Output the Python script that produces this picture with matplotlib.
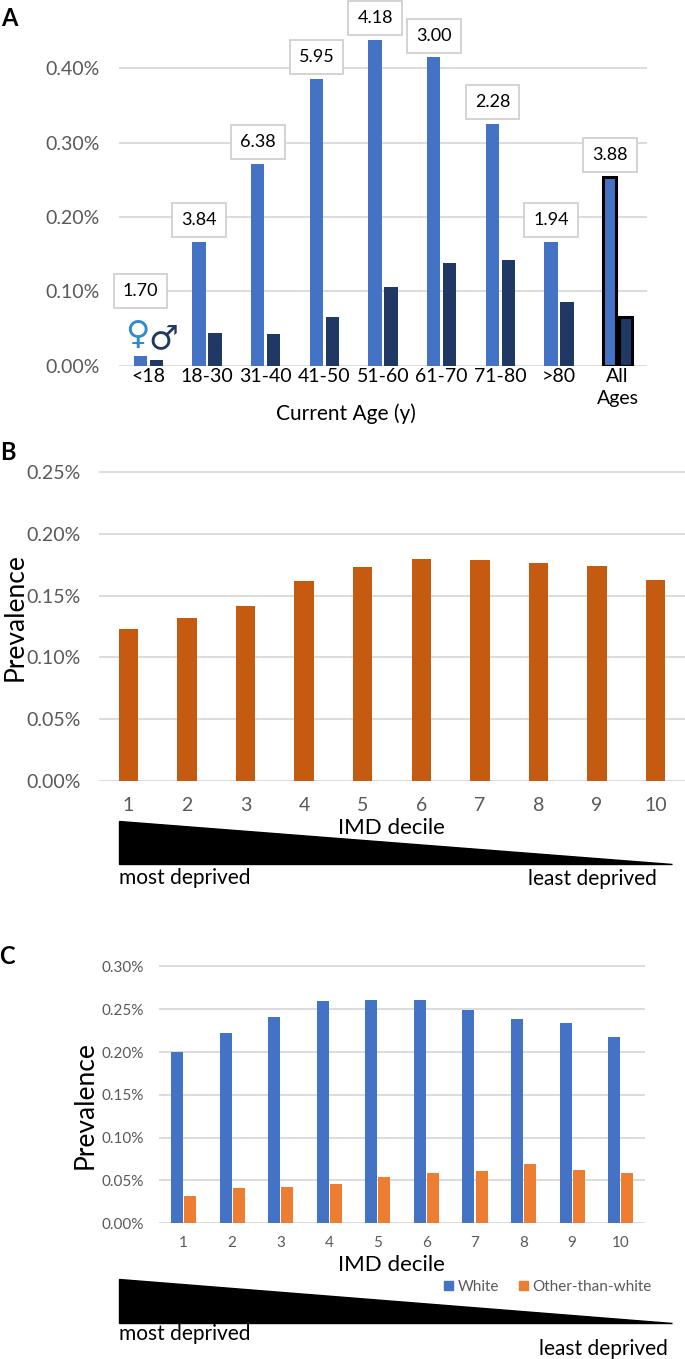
import matplotlib
matplotlib.use("Agg")
import matplotlib.pyplot as plt
from matplotlib.patches import Polygon, Patch
from matplotlib.ticker import FuncFormatter

plt.rcParams['font.family'] = ['Lato', 'DejaVu Sans']

# ---- data ----
age_groups = ["<18", "18-30", "31-40", "41-50", "51-60", "61-70", "71-80", ">80", "All\nAges"]
female_prev = [0.013, 0.1664, 0.2713, 0.3856, 0.4381, 0.4148, 0.3251, 0.1664, 0.2542]
male_prev = [0.0077, 0.0436, 0.0426, 0.0651, 0.1054, 0.1381, 0.1422, 0.0861, 0.0659]
ratio_labels = ["1.70", "3.84", "6.38", "5.95", "4.18", "3.00", "2.28", "1.94", "3.88"]

deciles = ["1", "2", "3", "4", "5", "6", "7", "8", "9", "10"]
imd_prev = [0.1227, 0.1316, 0.1413, 0.1618, 0.1734, 0.1799, 0.1789, 0.1762, 0.1740, 0.1624]
white_prev = [0.2001, 0.2227, 0.2414, 0.2593, 0.2612, 0.2605, 0.2492, 0.2390, 0.2336, 0.2176]
other_prev = [0.0323, 0.0413, 0.0428, 0.0463, 0.0537, 0.0588, 0.0611, 0.0693, 0.0619, 0.0591]

BLUE = "#4472C4"
NAVY = "#203864"
DARK_ORANGE = "#C55A11"
ORANGE = "#ED7D31"
GRID = "#D9D9D9"
TICK = "#595959"

W, H = 685, 1359
fig = plt.figure(figsize=(W / 100, H / 100), dpi=100)


def fx(px):
    return px / W


def fy(py):
    return 1 - py / H


def axes_px(left, right, bottom, top):
    return fig.add_axes([fx(left), fy(bottom), (right - left) / W, (bottom - top) / H])


def style(ax, ticks, fs, pad_y, pad_x, xcolor):
    for s in ax.spines.values():
        s.set_visible(False)
    ax.set_yticks(ticks)
    ax.yaxis.set_major_formatter(FuncFormatter(lambda v, p: f"{v:.2f}%"))
    ax.grid(axis='y', color=GRID, lw=1.3)
    ax.set_axisbelow(True)
    ax.tick_params(axis='y', length=0, pad=pad_y, labelsize=fs, labelcolor=TICK)
    ax.tick_params(axis='x', length=0, pad=pad_x, labelsize=fs, labelcolor=xcolor)


# ---- panel A ----
axA = axes_px(119, 647, 365.7, 8.8)
xa = list(range(len(age_groups)))
bw = 0.23
off = 0.135
last = len(age_groups) - 1
for i in xa:
    edge = 'black' if i == last else 'none'
    lw = 2.2 if i == last else 0
    axA.bar(i - off, female_prev[i], bw, color=BLUE, edgecolor=edge, linewidth=lw)
    axA.bar(i + off, male_prev[i], bw, color=NAVY, edgecolor=edge, linewidth=lw)
axA.set_xlim(-0.5, len(age_groups) - 0.5)
axA.set_ylim(0, 0.48)
axA.set_xticks(xa)
axA.set_xticklabels(age_groups, linespacing=1.3)
style(axA, [0, 0.1, 0.2, 0.3, 0.4], 14, 14, 2, 'black')

box = dict(boxstyle='square,pad=0.5', fc='white', ec='#D0D0D0', lw=1.3)
for i, lab in enumerate(ratio_labels):
    if i == 0:
        axA.annotate(lab, xy=(i - off, 0.10), ha='center', va='center',
                     fontsize=13, bbox=box)
    else:
        axA.annotate(lab, xy=(i - off, female_prev[i]), xytext=(0, 15.5),
                     textcoords='offset points', ha='center', va='center',
                     fontsize=13, bbox=box, annotation_clip=False)

fig.text(fx(137), fy(334), "\u2640", fontsize=24, color="#2E8BD0",
         family='DejaVu Sans', ha='center', va='center')
fig.text(fx(163), fy(339), "\u2642", fontsize=24, color=NAVY,
         family='DejaVu Sans', ha='center', va='center')
fig.text(fx(346), fy(414), "Current Age (y)", fontsize=15, ha='center', va='center')
fig.text(fx(9), fy(18), "A", fontsize=17, fontweight='bold', ha='center', va='center')

# ---- panel B ----
axB = axes_px(99, 685, 780.7, 459.9)
xd = list(range(len(deciles)))
axB.bar(xd, imd_prev, 0.333, color=DARK_ORANGE)
axB.set_xlim(-0.5, len(deciles) - 0.5)
axB.set_ylim(0, 0.26)
axB.set_xticks(xd)
axB.set_xticklabels(deciles)
style(axB, [0, 0.05, 0.1, 0.15, 0.2, 0.25], 14, 13, 12, TICK)
fig.text(fx(15), fy(617), "Prevalence", fontsize=19, rotation=90, ha='center', va='center')
fig.text(fx(391.5), fy(828), "IMD decile", fontsize=16, ha='center', va='center')
fig.text(fx(8), fy(453), "B", fontsize=17, fontweight='bold', ha='center', va='center')

# ---- panel C ----
axC = axes_px(159.3, 645, 1223.3, 957.9)
axC.bar([x - 0.136 for x in xd], white_prev, 0.247, color=BLUE, label="White")
axC.bar([x + 0.136 for x in xd], other_prev, 0.247, color=ORANGE, label="Other-than-white")
axC.set_xlim(-0.5, len(deciles) - 0.5)
axC.set_ylim(0, 0.31)
axC.set_xticks(xd)
axC.set_xticklabels(deciles)
style(axC, [0, 0.05, 0.1, 0.15, 0.2, 0.25, 0.3], 11, 11, 9, TICK)
fig.text(fx(85), fy(1105), "Prevalence", fontsize=19, rotation=90, ha='center', va='center')
fig.text(fx(391.5), fy(1265), "IMD decile", fontsize=16, ha='center', va='center')
fig.text(fx(7), fy(956), "C", fontsize=17, fontweight='bold', ha='center', va='center')
handles = [Patch(color=BLUE, label="White"), Patch(color=ORANGE, label="Other-than-white")]
leg = axC.legend(handles=handles, loc='center', bbox_to_anchor=(fx(548), fy(1287)),
                 bbox_transform=fig.transFigure, frameon=False, ncol=2, fontsize=11,
                 handlelength=0.6, handleheight=0.6, handletextpad=0.3, columnspacing=1.3)
for t in leg.get_texts():
    t.set_color(TICK)

# ---- deprivation wedges ----
for top, bot in [(821, 864), (1279, 1322.7)]:
    tri = Polygon([(fx(119), fy(top)), (fx(119), fy(bot)), (fx(671.5), fy(bot))],
                  closed=True, color='black', transform=fig.transFigure)
    fig.add_artist(tri)

fig.text(fx(119), fy(878), "most deprived", fontsize=15, ha='left', va='center')
fig.text(fx(657), fy(879), "least deprived", fontsize=15, ha='right', va='center')
fig.text(fx(119), fy(1334), "most deprived", fontsize=15, ha='left', va='center')
fig.text(fx(668), fy(1349), "least deprived", fontsize=15, ha='right', va='center')

fig.savefig("out.png", dpi=100)
